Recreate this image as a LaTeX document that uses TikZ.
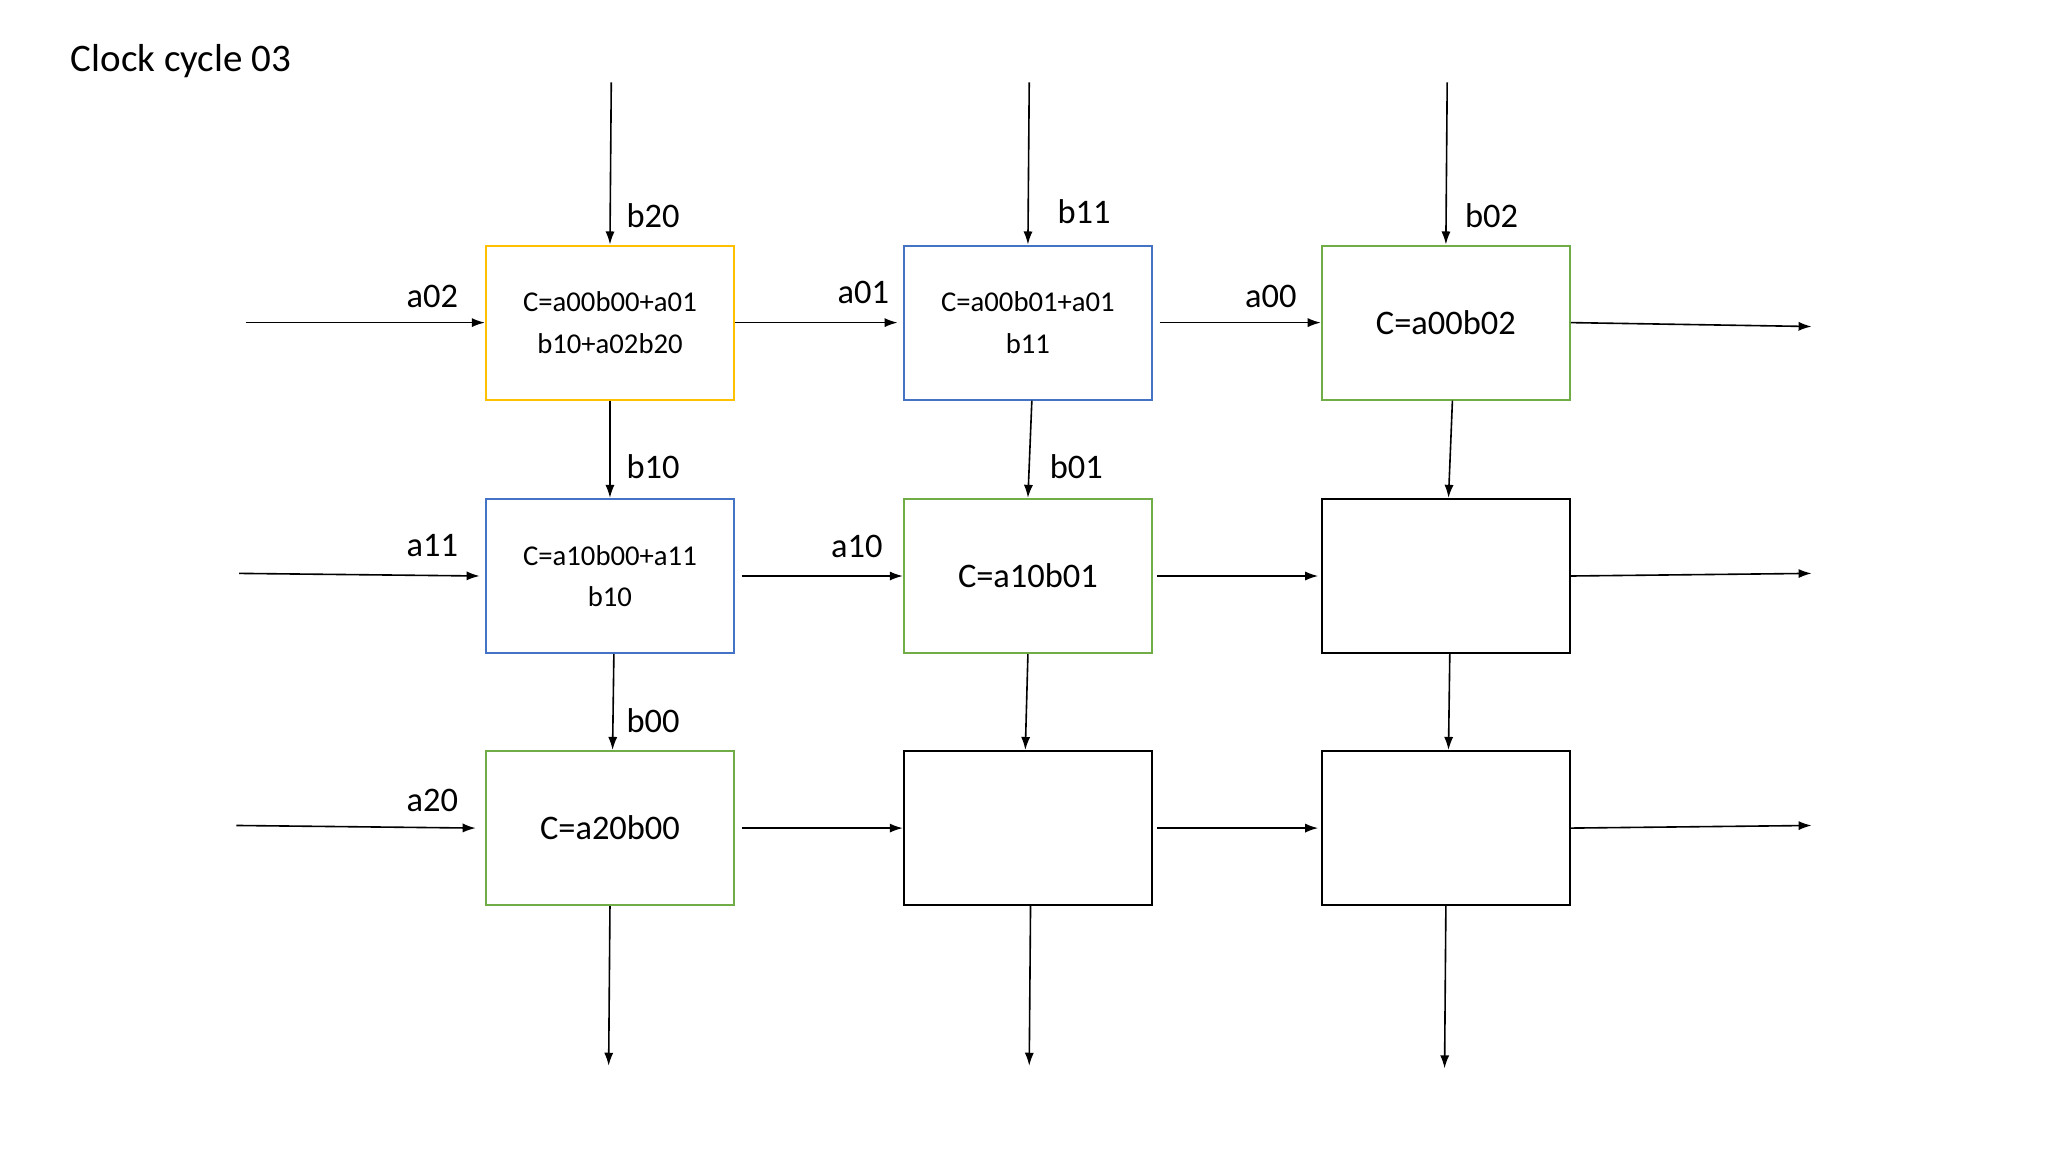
\documentclass[tikz,border=0pt]{standalone}
\usepackage{fontspec}
\setmainfont{Carlito}
\usetikzlibrary{arrows.meta}
\definecolor{cy}{HTML}{FFC000}
\definecolor{cb}{HTML}{4472C4}
\definecolor{cg}{HTML}{70AD47}
\begin{document}
\begin{tikzpicture}[x=0.02cm,y=-0.02cm,
 pe/.style={draw,line width=0.9pt,minimum width=3.8cm,minimum height=2.36cm,inner sep=0pt,align=center,font=\fontsize{15}{21}\selectfont},
 sm/.style={font=\fontsize{12.5}{18}\selectfont},
 lb/.style={font=\fontsize{15}{18}\selectfont,inner sep=0pt},
 ar/.style={-{Latex[length=0.2cm,width=0.14cm]},line width=0.7pt}]
\useasboundingbox (0,0) rectangle (1568,882);
\node[anchor=west,font=\fontsize{17}{20}\selectfont] (t) at (48,47) {Clock cycle 03};
\node[pe,cy,text=black,sm] (p00) at (467,247) {C=a00b00+a01\\b10+a02b20};
\node[pe,cb,text=black,sm] (p01) at (787,247) {C=a00b01+a01\\b11};
\node[pe,cg,text=black] (p02) at (1107,247) {C=a00b02};
\node[pe,cb,text=black,sm] (p10) at (467,441) {C=a10b00+a11\\b10};
\node[pe,cg,text=black] (p11) at (787,441) {C=a10b01};
\node[pe] (p12) at (1107,441) {};
\node[pe,cg,text=black] (p20) at (467,634) {C=a20b00};
\node[pe] (p21) at (787,634) {};
\node[pe] (p22) at (1107,634) {};
% free ends
\coordinate (t0) at (468,63); \coordinate (t1) at (788,63); \coordinate (t2) at (1108,63);
\coordinate (l0) at (188,247); \coordinate (l1) at (183,439); \coordinate (l2) at (181,632);
\coordinate (r0) at (1387,250); \coordinate (r1) at (1387,439); \coordinate (r2) at (1387,632);
\coordinate (d0) at (466,816); \coordinate (d1) at (788,816); \coordinate (d2) at (1106,818);
\draw[ar] (t0) -- (p00.north);
\draw[ar] (t1) -- (p01.north);
\draw[ar] (t2) -- (p02.north);
\draw[ar] (l0) -- (p00.west);
\draw[ar] (l1) -- ([xshift=-0.08cm]p10.west);
\draw[ar] (l2) -- ([xshift=-0.14cm]p20.west);
\draw[ar] (p00.east) -- ([xshift=-0.08cm]p01.west);
\draw[ar] ([xshift=0.1cm]p01.east) -- (p02.west);
\draw[ar] ([xshift=0.1cm]p10.east) -- (p11.west);
\draw[ar] ([xshift=0.06cm]p11.east) -- ([xshift=-0.04cm]p12.west);
\draw[ar] ([xshift=0.1cm]p20.east) -- (p21.west);
\draw[ar] ([xshift=0.06cm]p21.east) -- ([xshift=-0.04cm]p22.west);
\draw[ar] (p02.east) -- (r0);
\draw[ar] (p12.east) -- (r1);
\draw[ar] (p22.east) -- (r2);
\draw[ar] (p00.south) -- (p10.north);
\draw[ar] ([xshift=0.06cm]p01.south) -- (p11.north);
\draw[ar] ([xshift=0.1cm]p02.south) -- ([xshift=0.04cm]p12.north);
\draw[ar] ([xshift=0.06cm]p10.south) -- ([xshift=0.04cm]p20.north);
\draw[ar] (p11.south) -- ([xshift=-0.04cm]p21.north);
\draw[ar] ([xshift=0.06cm]p12.south) -- ([xshift=0.04cm]p22.north);
\draw[ar] (p20.south) -- (d0);
\draw[ar] ([xshift=0.04cm]p21.south) -- (d1);
\draw[ar] (p22.south) -- (d2);
% labels
\node[lb] (lb20) at (500,165) {b20};
\node[lb] (lb11) at (830,162) {b11};
\node[lb] (lb02) at (1142,165) {b02};
\node[lb] (la02) at (331,227) {a02};
\node[lb] (la01) at (661,224) {a01};
\node[lb] (la00) at (973,227) {a00};
\node[lb] (lb10) at (500,357) {b10};
\node[lb] (lb01) at (824,357) {b01};
\node[lb] (la11) at (331,418) {a11};
\node[lb] (la10) at (656,418) {a10};
\node[lb] (lb00) at (500,552) {b00};
\node[lb] (la20) at (331,613) {a20};
\end{tikzpicture}
\end{document}
